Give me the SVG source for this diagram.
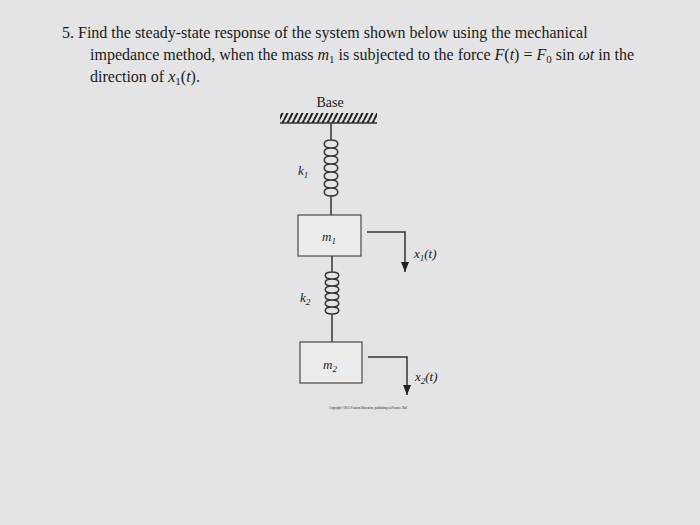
<svg xmlns="http://www.w3.org/2000/svg" width="700" height="525" viewBox="0 0 700 525">
<defs>
<pattern id="h" width="5" height="10" patternUnits="userSpaceOnUse"><path d="M-1,10 L4,0 M4,10 L9,0" stroke="#222" stroke-width="2"/></pattern>
<marker id="a" markerWidth="10" markerHeight="8" refX="10" refY="4" orient="auto" markerUnits="userSpaceOnUse"><path d="M0,0 L10,4 L0,8 Z" fill="#222"/></marker>
</defs>
<style>
text{font-family:"Liberation Serif",serif;fill:#1a1a1a}
.q{font-size:16px}
.l{font-size:13px;font-style:italic}
.ln{stroke:#333;stroke-width:1.5;fill:none}
.box{fill:#ececec;stroke:#555;stroke-width:1.3}
</style>
<rect width="700" height="525" fill="#e4e4e6"/>
<g id="question">
<text class="q" x="62" y="38">5.  Find the steady-state response of the system shown below using the mechanical</text>
<text class="q" x="90" y="60">impedance method, when the mass <tspan font-style="italic">m</tspan><tspan font-size="11" dy="3">1</tspan><tspan dy="-3"> is subjected to the force </tspan><tspan font-style="italic">F</tspan>(<tspan font-style="italic">t</tspan>) = <tspan font-style="italic">F</tspan><tspan font-size="11" dy="3">0</tspan><tspan dy="-3"> sin </tspan><tspan font-style="italic">ωt</tspan> in the</text>
<text class="q" x="90" y="82">direction of <tspan font-style="italic">x</tspan><tspan font-size="11" dy="3">1</tspan><tspan dy="-3">(</tspan><tspan font-style="italic">t</tspan>).</text>
</g>
<g id="base">
<text x="330" y="107" font-size="14" text-anchor="middle">Base</text>
<rect x="280" y="113" width="97" height="10" fill="url(#h)"/>
<line x1="280" y1="123" x2="377" y2="123" class="ln"/>
</g>
<g id="k1">
<path class="ln" d="M331,123 V140 c-9,0 -9,8 0,8 c-9,0 -9,8 0,8 c-9,0 -9,8 0,8 c-9,0 -9,8 0,8 c-9,0 -9,8 0,8 c-9,0 -9,8 0,8 c-9,0 -9,8 0,8 M331,140 c9,0 9,8 0,8 c9,0 9,8 0,8 c9,0 9,8 0,8 c9,0 9,8 0,8 c9,0 9,8 0,8 c9,0 9,8 0,8 c9,0 9,8 0,8 V215"/>
<text class="l" x="298" y="175">k<tspan font-size="9" dy="3">1</tspan></text>
</g>
<g id="m1">
<rect class="box" x="298" y="215" width="63" height="41"/>
<text class="l" x="322" y="241">m<tspan font-size="9" dy="3">1</tspan></text>
</g>
<g id="k2">
<path class="ln" d="M332,256 V272 c-9,0 -9,7 0,7 c-9,0 -9,7 0,7 c-9,0 -9,7 0,7 c-9,0 -9,7 0,7 c-9,0 -9,7 0,7 c-9,0 -9,7 0,7 M332,272 c9,0 9,7 0,7 c9,0 9,7 0,7 c9,0 9,7 0,7 c9,0 9,7 0,7 c9,0 9,7 0,7 c9,0 9,7 0,7 V342"/>
<text class="l" x="300" y="302">k<tspan font-size="9" dy="3">2</tspan></text>
</g>
<g id="m2">
<rect class="box" x="300" y="342" width="62" height="41"/>
<text class="l" x="323" y="369">m<tspan font-size="9" dy="3">2</tspan></text>
</g>
<g id="connectors">
<path class="ln" d="M367,232 H405 V272" marker-end="url(#a)"/>
<path class="ln" d="M368,357 H407 V395" marker-end="url(#a)"/>
</g>
<text class="l" x="414" y="258">x<tspan font-size="9" dy="3">1</tspan><tspan dy="-3">(t)</tspan></text>
<text class="l" x="415" y="381">x<tspan font-size="9" dy="3">2</tspan><tspan dy="-3">(t)</tspan></text>
<text x="368" y="409" font-size="3" text-anchor="middle" fill="#555">Copyright ©2011 Pearson Education, publishing as Prentice Hall</text>
</svg>
